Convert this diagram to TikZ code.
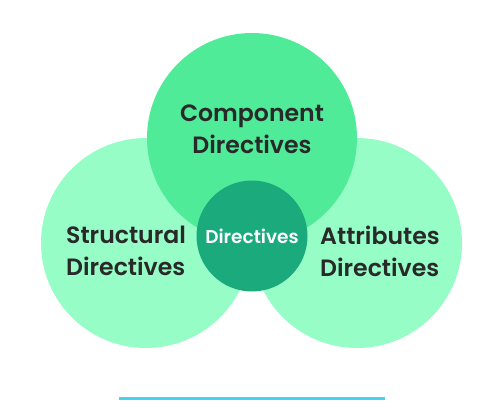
\documentclass[tikz,border=0pt]{standalone}
\usepackage{fontspec}
\setmainfont{Poppins}[BoldFont={Poppins SemiBold}]
\definecolor{mintl}{HTML}{96FDC7}
\definecolor{mintm}{HTML}{4FEB99}
\definecolor{mintd}{HTML}{1BAA7C}
\definecolor{ink}{HTML}{292929}
\definecolor{strich}{HTML}{45D3F0}
\tikzset{
  blob/.style={circle,inner sep=0pt,minimum size=210pt},
  kern/.style={circle,inner sep=0pt,minimum size=111pt,fill=mintd},
  lab/.style={ink,font=\fontsize{23.6}{32}\selectfont\bfseries,inner sep=0pt},
  klab/.style={white,font=\fontsize{18.5}{24}\selectfont\bfseries,inner sep=0pt},
}
\begin{document}
\begin{tikzpicture}[x=1pt,y=-1pt]
  \useasboundingbox (0,0) rectangle (500,400);
  \node[blob,fill=mintl] (struct) at (146,243) {};
  \node[blob,fill=mintl] (attr) at (357,243) {};
  \node[blob,fill=mintm] (comp) at (252,138) {};
  \node[kern] (core) at (252,236) {};
  \node[lab,align=center] (comptxt) at (252,129) {Component\\Directives};
  \node[lab,align=left,anchor=west] (structtxt) at (66,251) {Structural\\Directives};
  \node[lab,align=left,anchor=west] (attrtxt) at (320,251) {Attributes\\Directives};
  \node[klab] (coretxt) at (252,236) {Directives};
  \fill[strich] (119,396.5) rectangle (385,400);
\end{tikzpicture}
\end{document}
